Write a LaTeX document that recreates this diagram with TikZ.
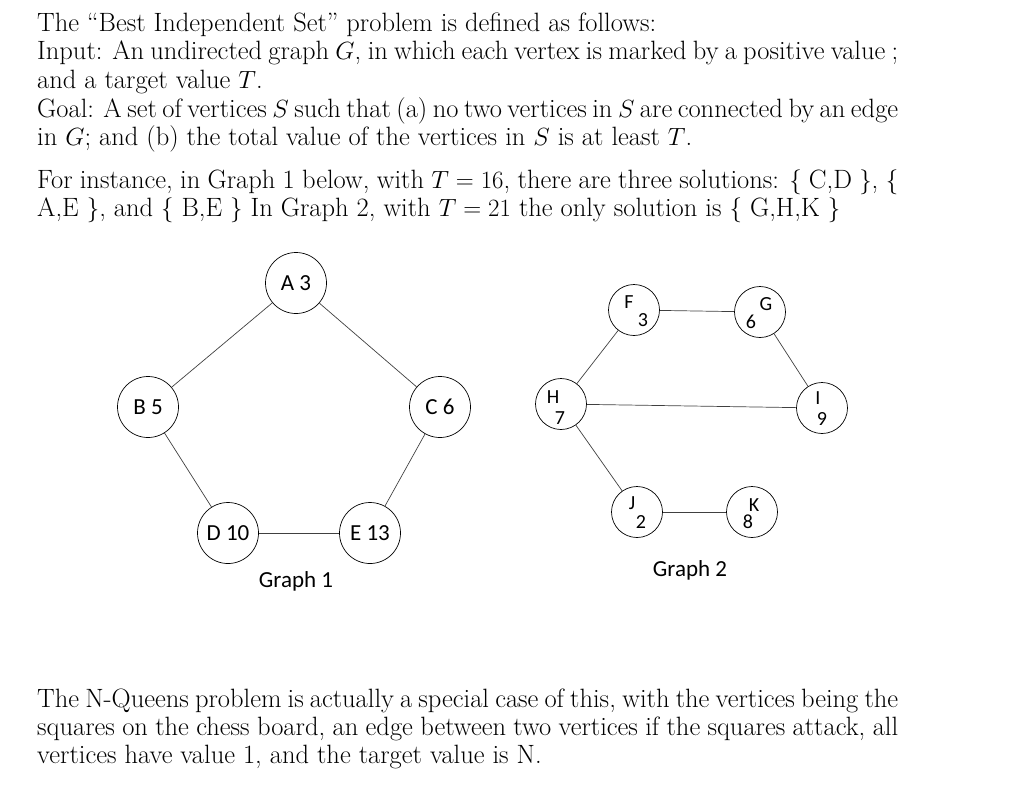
\documentclass[tikz,border=0pt]{standalone}
\usepackage{fontspec}
\newfontfamily\carl{Carlito}
\begin{document}
\begin{tikzpicture}[x=1pt,y=-1pt,
  txt/.style={anchor=base west,inner sep=0pt,font=\fontsize{26.5}{30}\selectfont},
  vtx/.style={draw,circle,minimum size=61pt,inner sep=0pt,line width=0.7pt,font=\carl\fontsize{23}{26}\selectfont},
  vtx2/.style={draw,circle,minimum size=51pt,inner sep=0pt,line width=0.7pt},
  lab/.style={inner sep=0pt,font=\carl\fontsize{20}{22}\selectfont},
  edge/.style={draw,line width=0.7pt,black!75}]
\useasboundingbox (0,0) rectangle (1024,807);
\node[txt] (l1) at (37,31) {The “Best Independent Set” problem is defined as follows:};
\node[txt] (l2) at (37,59) {\makebox[861pt][s]{Input: An undirected graph $G$, in which each vertex is marked by a positive value ;}};
\node[txt] (l3) at (37,88) {and a target value $T$.};
\node[txt] (l4) at (37,117) {\makebox[861pt][s]{Goal: A set of vertices $S$ such that (a) no two vertices in $S$ are connected by an edge}};
\node[txt] (l5) at (37,145) {in $G$; and (b) the total value of the vertices in $S$ is at least $T$.};
\node[txt] (l6) at (37,188) {\makebox[861pt][s]{For instance, in Graph 1 below, with $T=16$, there are three solutions: $\{$ C,D $\}$, $\{$}};
\node[txt] (l7) at (37,216) {A,E $\}$, and $\{$ B,E $\}$ In Graph 2, with $T=21$ the only solution is $\{$ G,H,K $\}$};
\node[txt] (m1) at (37,707) {\makebox[861pt][s]{The N-Queens problem is actually a special case of this, with the vertices being the}};
\node[txt] (m2) at (37,735) {\makebox[861pt][s]{squares on the chess board, an edge between two vertices if the squares attack, all}};
\node[txt] (m3) at (37,763) {vertices have value 1, and the target value is N.};
% graph 1
\node[vtx] (A) at (296,283) {A 3};
\node[vtx] (B) at (148,407) {B 5};
\node[vtx] (C) at (440,407) {C 6};
\node[vtx] (D) at (228,533) {D 10};
\node[vtx] (E) at (370,533) {E 13};
\draw[edge] (A)--(B); \draw[edge] (A)--(C); \draw[edge] (B)--(D);
\draw[edge] (C)--(E); \draw[edge] (D)--(E);
\node[lab,font=\carl\fontsize{23}{26}\selectfont] (g1) at (296,581) {Graph 1};
% graph 2
\node[vtx2] (F) at (634,310) {};
\node[vtx2] (G) at (760,312) {};
\node[vtx2] (H) at (561,404) {};
\node[vtx2] (I) at (822,408) {};
\node[vtx2] (J) at (637,512) {};
\node[vtx2] (K) at (752,512) {};
\node[lab] (Fa) at (629,302) {F}; \node[lab] (Fb) at (643,320) {3};
\node[lab] (Ga) at (766,304) {G}; \node[lab] (Gb) at (751,322) {6};
\node[lab] (Ha) at (553,397) {H}; \node[lab] (Hb) at (560,418) {7};
\node[lab] (Ia) at (818,398) {I}; \node[lab] (Ib) at (822,419) {9};
\node[lab] (Ja) at (632,503) {J}; \node[lab] (Jb) at (641,522) {2};
\node[lab] (Ka) at (754,505) {K}; \node[lab] (Kb) at (748,522) {8};
\draw[edge] (F)--(G); \draw[edge] (F)--(H); \draw[edge] (G)--(I);
\draw[edge] (H)--(I); \draw[edge] (H)--(J); \draw[edge] (J)--(K);
\node[lab,font=\carl\fontsize{23}{26}\selectfont] (g2) at (690,570) {Graph 2};
\end{tikzpicture}
\end{document}
